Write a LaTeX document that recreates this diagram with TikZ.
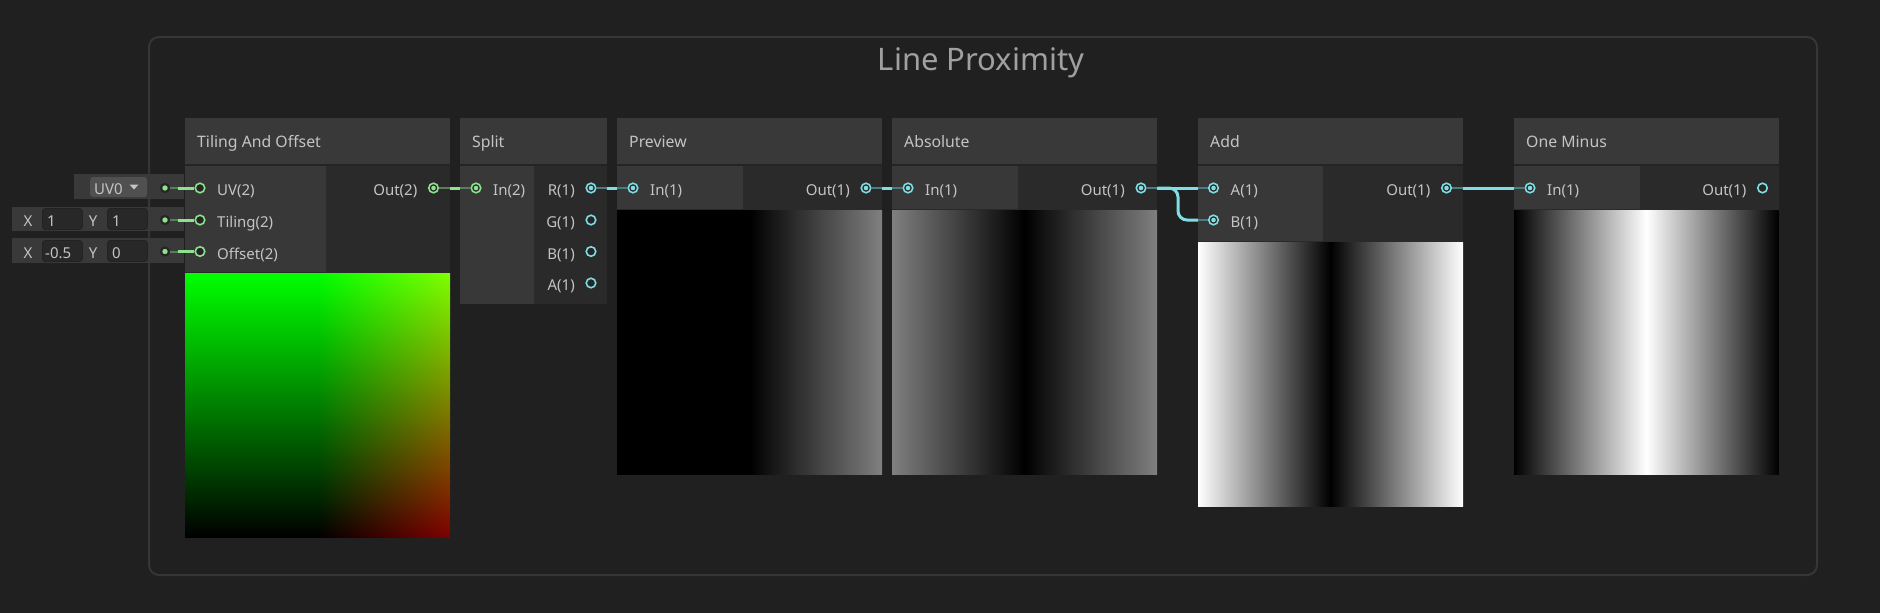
\documentclass[tikz,border=0pt]{standalone}
\usepackage{fontspec}
\setmainfont{Noto Sans}
\definecolor{bgc}{HTML}{202020}
\definecolor{framec}{HTML}{363636}
\definecolor{hdrc}{HTML}{393939}
\definecolor{inc}{HTML}{383838}
\definecolor{outc}{HTML}{2A2A2A}
\definecolor{sepc}{HTML}{242424}
\definecolor{txtc}{HTML}{C4C4C4}
\definecolor{titc}{HTML}{A0A0A0}
\definecolor{grn}{HTML}{8DE38B}
\definecolor{grndim}{HTML}{587F57}
\definecolor{cyn}{HTML}{7FDDE4}
\definecolor{cyndim}{HTML}{4C7C80}
\definecolor{fieldc}{HTML}{282828}
\definecolor{fielddraw}{HTML}{222222}
\definecolor{btnc}{HTML}{505050}
\definecolor{inlc}{HTML}{393939}
\definecolor{portin}{HTML}{262626}
\definecolor{g50}{gray}{0.5}
\definecolor{r50}{rgb}{0.5,0,0}
\definecolor{pgreen}{rgb}{0,1,0}
\pgfdeclarehorizontalshading{shPrev}{100bp}{color(0bp)=(black); color(50bp)=(black); color(75bp)=(g50); color(100bp)=(g50)}
\pgfdeclarehorizontalshading{shAbs}{100bp}{color(0bp)=(g50); color(25bp)=(g50); color(50bp)=(black); color(75bp)=(g50); color(100bp)=(g50)}
\pgfdeclarehorizontalshading{shAdd}{100bp}{color(0bp)=(white); color(25bp)=(white); color(50bp)=(black); color(75bp)=(white); color(100bp)=(white)}
\pgfdeclarehorizontalshading{shOne}{100bp}{color(0bp)=(black); color(25bp)=(black); color(50bp)=(white); color(75bp)=(black); color(100bp)=(black)}
\newcommand\gnode[7]{%
  \node[nbody, minimum width=#3, minimum height={#6-117.5}] (#1) at (#2,117.5) {};
  \fill[hdrc] (#2,117.5) rectangle ({#2+#3},164);
  \fill[sepc] (#2,164) rectangle ({#2+#3},165.5);
  \fill[inc] (#2,165.5) rectangle (#4,#5);
  \node[htitle] (#1-t) at ({#2+12},147.5) {#7};
}
\newcommand\inport[6]{%
  \node[port=#4] (#1) at (#2,#3) {};
  \ifnum#5=1 \fill[#4] (#1) circle (2.3);\fi
  \node[plab, anchor=base west] (#1-l) at ({#2+17},{#3+7.5}) {#6};
}
\newcommand\outport[6]{%
  \node[port=#4] (#1) at (#2,#3) {};
  \ifnum#5=1 \fill[#4] (#1) circle (2.3);\fi
  \node[plab, anchor=base east] (#1-l) at ({#2-16},{#3+7.5}) {#6};
}
\begin{document}
\begin{tikzpicture}[x=1pt,y=-1pt,
  nbody/.style={fill=outc, draw=none, inner sep=0, anchor=north west},
  htitle/.style={text=txtc, font=\fontsize{15.8}{18}\selectfont, inner sep=0, anchor=base west},
  plab/.style={text=txtc, font=\fontsize{15}{18}\selectfont, inner sep=0},
  port/.style={circle, draw=#1, line width=1.6, fill=portin, minimum size=9.5, inner sep=0},
  dimg/.style={draw=grndim, line width=2},
  brg/.style={draw=grn, line width=3},
  dimc/.style={draw=cyndim, line width=2},
  brc/.style={draw=cyn, line width=3},
  inl/.style={fill=inlc, draw=none, inner sep=0},
  field/.style={fill=fieldc, draw=fielddraw, line width=0.8, rounded corners=3, inner sep=0, anchor=west},
  btn/.style={fill=btnc, draw=none, rounded corners=3, inner sep=0, anchor=west},
  ftxt/.style={text=txtc, font=\fontsize{15}{18}\selectfont, inner sep=0},
  idot/.style={circle, fill=grn, draw=portin, line width=2.2, minimum size=8, inner sep=0},
]
\useasboundingbox[fill=bgc] (0,0) rectangle (1880,613);

% group frame
\node[draw=framec, line width=2, rounded corners=10, minimum width=1668, minimum height=538, anchor=north west, inner sep=0] (grp) at (148,36) {};
\node[text=titc, font=\fontsize{31}{36}\selectfont, anchor=base, inner sep=0] (grptitle) at (981,70) {Line Proximity};

% nodes
\gnode{tile}{185}{265}{326}{272}{537}{Tiling And Offset}
\gnode{split}{460}{147}{534}{303.5}{303.5}{Split}
\gnode{prev}{617}{265}{743}{209}{474}{Preview}
\gnode{absn}{892}{265}{1018}{209}{474}{Absolute}
\gnode{addn}{1198}{265}{1323}{241}{506}{Add}
\gnode{onem}{1514}{264.5}{1640}{209}{474}{One Minus}

% previews
\shade[top color=pgreen, bottom color=black] (185,273) rectangle (450,537);
\shade[left color=black, right color=r50, blend mode=lighten] (317.5,273) rectangle (450,537);
\shade[shading=shPrev] (617,210) rectangle (882,474);
\shade[shading=shAbs] (892,210) rectangle (1157,474);
\shade[shading=shAdd] (1198,242) rectangle (1463,506);
\shade[shading=shOne] (1514,210) rectangle (1778.5,474);

% inline inputs
\node[inl, minimum width=110, minimum height=25, anchor=west] (uvbox) at (74,186.5) {};
\node[btn, minimum width=57, minimum height=20] (uvbtn) at (90,187) {};
\node[ftxt, anchor=base west] (uvtxt) at (94,194) {UV0};
\fill[txtc] (129.5,184.5) -- (138.5,184.5) -- (134,189.5) -- cycle;

\node[inl, minimum width=172, minimum height=24, anchor=west] (tilbox) at (12,219) {};
\node[ftxt, anchor=base] (tilX) at (28,226) {X};
\node[field, minimum width=40, minimum height=21] (tilfx) at (42,219) {};
\node[ftxt, anchor=base west] (tilvx) at (47,226) {1};
\node[ftxt, anchor=base] (tilY) at (93,226) {Y};
\node[field, minimum width=40, minimum height=21] (tilfy) at (107,219) {};
\node[ftxt, anchor=base west] (tilvy) at (112,226) {1};

\node[inl, minimum width=172, minimum height=25, anchor=west] (offbox) at (12,250.5) {};
\node[ftxt, anchor=base] (offX) at (28,258) {X};
\node[field, minimum width=40, minimum height=21] (offfx) at (42,251) {};
\node[ftxt, anchor=base west] (offvx) at (45,258) {-0.5};
\node[ftxt, anchor=base] (offY) at (93,258) {Y};
\node[field, minimum width=40, minimum height=21] (offfy) at (107,251) {};
\node[ftxt, anchor=base west] (offvy) at (112,258) {0};

% ports
\inport{tileUV}{200}{188}{grn}{0}{UV(2)}
\inport{tileTil}{200}{220}{grn}{0}{Tiling(2)}
\inport{tileOff}{200}{251.5}{grn}{0}{Offset(2)}
\outport{tileOut}{433.5}{188}{grn}{1}{Out(2)}

\inport{splitIn}{476}{188}{grn}{1}{In(2)}
\outport{splitR}{591}{188}{cyn}{1}{R(1)}
\outport{splitG}{591}{220}{cyn}{0}{G(1)}
\outport{splitB}{591}{251.5}{cyn}{0}{B(1)}
\outport{splitA}{591}{283}{cyn}{0}{A(1)}

\inport{prevIn}{633}{188}{cyn}{1}{In(1)}
\outport{prevOut}{866}{188}{cyn}{1}{Out(1)}

\inport{absIn}{908}{188}{cyn}{1}{In(1)}
\outport{absOut}{1141}{188}{cyn}{1}{Out(1)}

\inport{addA}{1213.5}{188}{cyn}{1}{A(1)}
\inport{addB}{1213.5}{220}{cyn}{1}{B(1)}
\outport{addOut}{1446.5}{188}{cyn}{1}{Out(1)}

\inport{oneIn}{1530}{188}{cyn}{1}{In(1)}
\outport{oneOut}{1762.5}{188}{cyn}{0}{Out(1)}

% inline dots and their wires
\node[idot] (uvdot) at (165,188) {};
\node[idot] (tildot) at (165,220) {};
\node[idot] (offdot) at (165,251.5) {};
\coordinate (uvmid) at (178,188);
\coordinate (tilmid) at (178,220);
\coordinate (offmid) at (178,251.5);
\draw[dimg] (uvdot) -- (uvmid);
\draw[brg] (uvmid) -- (tileUV);
\draw[dimg] (tildot) -- (tilmid);
\draw[brg] (tilmid) -- (tileTil);
\draw[dimg] (offdot) -- (offmid);
\draw[brg] (offmid) -- (tileOff);

% edges
\draw[dimg] (tileOut) -- (splitIn);
\draw[brg] (tileOut -| tile.east) -- (splitIn -| split.west);

\draw[dimc] (splitR) -- (prevIn);
\draw[brc] (splitR -| split.east) -- (prevIn -| prev.west);

\draw[dimc] (prevOut) -- (absIn);
\draw[brc] (prevOut -| prev.east) -- (absIn -| absn.west);

\draw[dimc] (absOut) -- (absOut -| absn.east);
\draw[brc] (absOut -| absn.east) -- (addA -| addn.west);
\draw[dimc] (addA -| addn.west) -- (addA);
\draw[brc, rounded corners=9] (absOut -| absn.east) -- (1178,188) -- (1178,220) -- (addB -| addn.west);
\draw[dimc] (addB -| addn.west) -- (addB);

\draw[dimc] (addOut) -- (oneIn);
\draw[brc] (addOut -| addn.east) -- (oneIn -| onem.west);
\end{tikzpicture}
\end{document}
